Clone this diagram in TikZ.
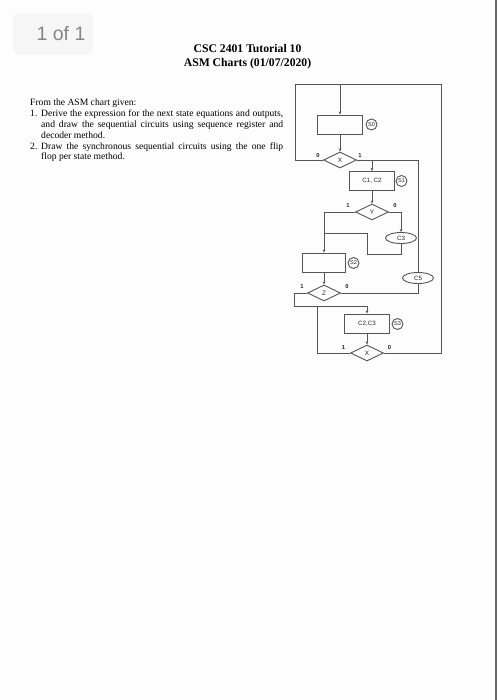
\documentclass[tikz,border=0pt]{standalone}
\usepackage{fontspec}
\setmainfont{Liberation Serif}
\setsansfont{Liberation Sans}
\usetikzlibrary{shapes.geometric,arrows.meta}
\definecolor{ln}{HTML}{555555}
\definecolor{tx}{HTML}{262626}
\definecolor{pg}{HTML}{F6F6F6}
\definecolor{pgt}{HTML}{858585}
\definecolor{bg}{HTML}{FDFDFD}
\begin{document}
\begin{tikzpicture}[x=1pt,y=-1pt,
  line/.style={draw=ln, line width=0.9pt},
  arr/.style={line, -{Stealth[length=3.2pt,width=2.8pt]}},
  statebox/.style={rectangle, draw=ln, line width=0.9pt, minimum width=45pt, minimum height=19pt, inner sep=0pt, font=\sffamily\fontsize{6.2}{7}\selectfont, text=tx},
  dec/.style={diamond, draw=ln, line width=0.9pt, minimum width=33pt, minimum height=16pt, inner sep=0pt, font=\sffamily\fontsize{6.4}{7}\selectfont, text=tx},
  cond/.style={ellipse, draw=ln, line width=0.9pt, minimum width=31pt, minimum height=11pt, inner sep=0pt, font=\sffamily\fontsize{6.2}{7}\selectfont, text=tx},
  tag/.style={circle, draw=ln, line width=0.9pt, minimum size=11pt, inner sep=0pt, font=\sffamily\fontsize{5.6}{6}\selectfont, text=tx},
  lbl/.style={inner sep=0pt, font=\sffamily\bfseries\fontsize{5.8}{6}\selectfont, text=tx},
  body/.style={anchor=north west, inner sep=0pt, text width=253pt, align=justify, font=\fontsize{9.6}{10.8}\selectfont, text=black}
]
\useasboundingbox (0,0) rectangle (497,700);
\fill[bg] (0,0) rectangle (497,700);
\draw[gray!80!black, line width=1.3pt] (496,0) -- (496,700);

% page indicator
\node[fill=pg, rounded corners=7pt, minimum width=80pt, minimum height=42pt, inner sep=0pt] (pgbox) at (53,34) {};
\node[text=pgt, font=\sffamily\fontsize{19.5}{20}\selectfont, inner sep=0pt] (pgtxt) at (61,34) {1 of 1};

% title
\node[anchor=base, inner sep=0pt, font=\bfseries\fontsize{11.7}{13}\selectfont] (t1) at (247.5,53) {CSC 2401 Tutorial 10};
\node[anchor=base, inner sep=0pt, font=\bfseries\fontsize{11.7}{13}\selectfont] (t2) at (247.5,67) {ASM Charts (01/07/2020)};

% text
\node[body] (txt) at (30,99) {\hyphenpenalty=10000\exhyphenpenalty=10000
From the ASM chart given:\par
\hangindent=11pt\hangafter=1\makebox[11pt][l]{1.}Derive the expression for the next state equations and outputs,\linebreak and draw the sequential circuits using sequence register and\linebreak decoder method.\par
\hangindent=11pt\hangafter=1\makebox[11pt][l]{2.}Draw the synchronous sequential circuits using the one flip\linebreak flop per state method.\par};

% chart nodes
\node[statebox] (s0) at (340,124.5) {};
\node[tag] (t0) at (371.5,124.5) {S0};
\node[dec] (x1) at (340,160) {X};
\node[statebox] (s1) at (372,181) {C1, C2};
\node[tag] (ts1) at (401.5,181) {S1};
\node[dec] (y) at (372,212) {Y};
\node[cond] (c3) at (401,238) {C3};
\node[statebox, minimum width=43pt] (s2) at (324,262.5) {};
\node[tag] (ts2) at (353.5,263) {S2};
\node[dec] (z) at (324,293) {Z};
\node[cond] (c5) at (418,278) {C5};
\node[statebox] (s3) at (367,323.5) {C2,C3};
\node[tag] (ts3) at (397.5,324) {S3};
\node[dec] (x2) at (367,353) {X};

% helper coordinates
\coordinate (tl) at (295,84);
\coordinate (tr) at (441,84);
\coordinate (tm) at (340,84);
\coordinate (j1) at (367,254);
\coordinate (j2) at (324,233);
\coordinate (zl) at (294,306);
\coordinate (jx) at (317,306);

% connectors
\draw[arr] (tm) -- (s0.north);
\draw[arr] (s0) -- (x1);
\draw[line] (x1.west) -| (tl) -- (tr) |- (x2.east);
\draw[line] (x1.east) -| (c5.north);
\draw[arr] (x1.east -| s1.north) -- (s1.north);
\draw[arr] (s1) -- (y);
\draw[arr] (y.west) -| (s2.north);
\draw[arr] (y.east) -| (c3.north);
\draw[line] (c3.south) |- (j1) |- (j2);
\draw[arr] (s2) -- (z);
\draw[arr] (z.west) -| (zl) -| (s3.north);
\draw[line] (z.east) -| (c5.south);
\draw[arr] (s3) -- (x2);
\draw[line] (x2.west) -| (jx);

% branch labels
\node[lbl] (l1) at (318,156) {0};
\node[lbl] (l2) at (360,156) {1};
\node[lbl] (l3) at (348,206) {1};
\node[lbl] (l4) at (395,206) {0};
\node[lbl] (l5) at (302,287) {1};
\node[lbl] (l6) at (347,287) {0};
\node[lbl] (l7) at (343.5,348) {1};
\node[lbl] (l8) at (389.5,348) {0};
\end{tikzpicture}
\end{document}
